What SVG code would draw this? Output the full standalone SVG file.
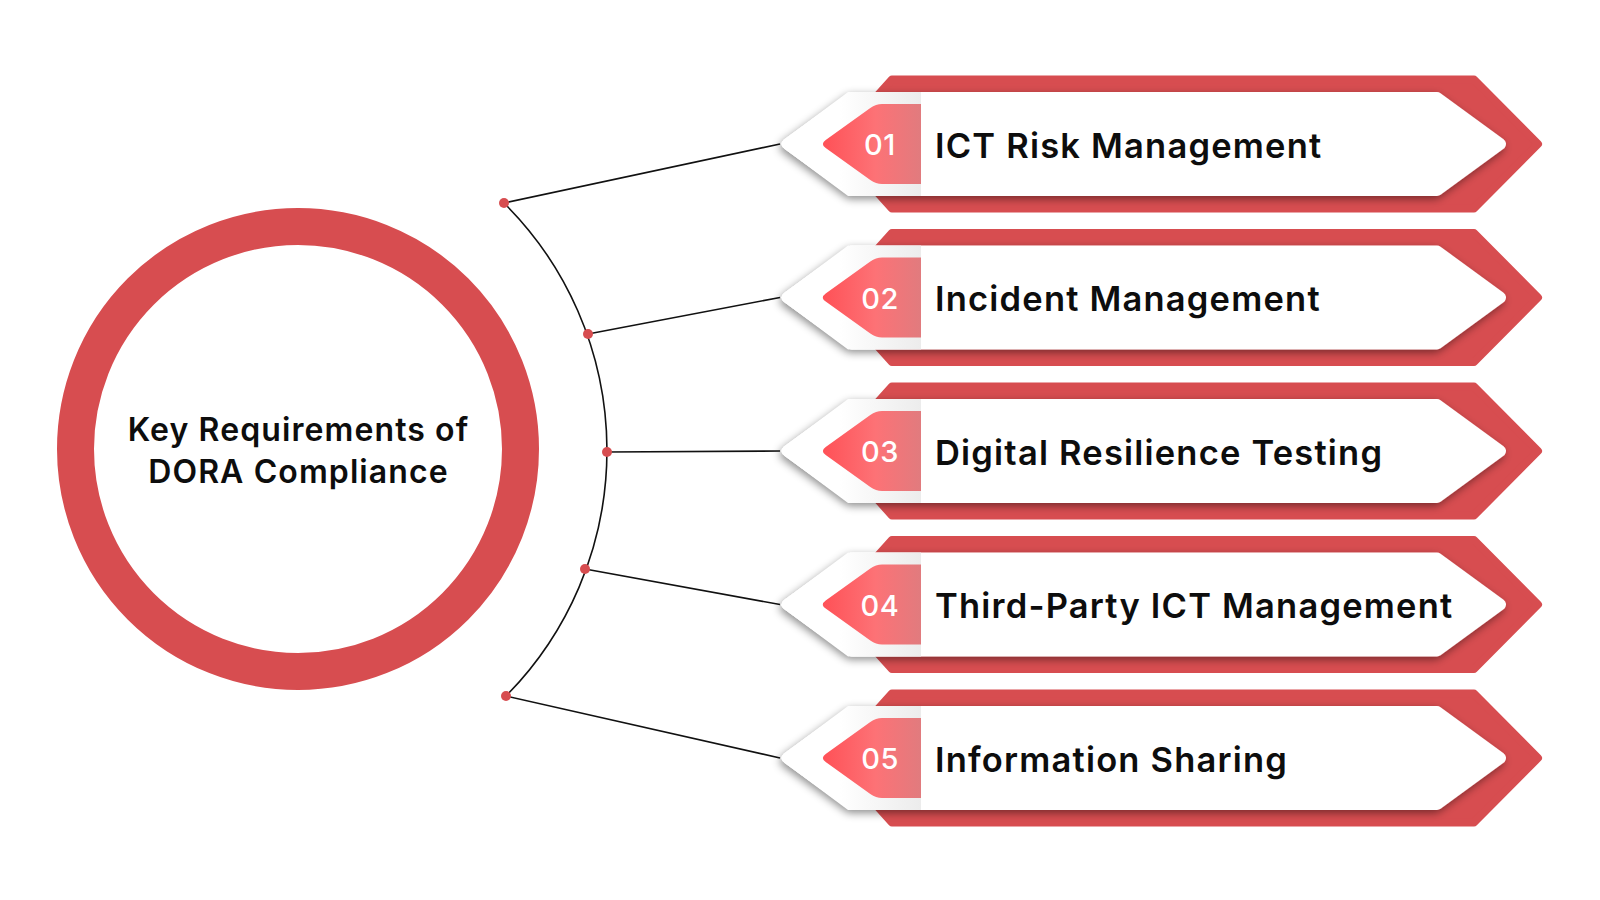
<svg xmlns="http://www.w3.org/2000/svg" xmlns:xlink="http://www.w3.org/1999/xlink" width="1600" height="900" viewBox="0 0 1600 900">
  <defs>
    <style>
      .red { fill: #d74d50; stroke: #d74d50; stroke-width: 8; stroke-linejoin: round; }
      .white { fill: #ffffff; stroke: #ffffff; stroke-width: 12; stroke-linejoin: round; filter: url(#sh); }
      .lbl { font-family: Inter, "Noto Sans", "Liberation Sans", sans-serif; font-weight: 600; font-size: 34.5px; letter-spacing: 1.2px; fill: #0d0d0d; }
      .num { font-family: Inter, "Noto Sans", "Liberation Sans", sans-serif; font-weight: 500; font-size: 29px; letter-spacing: 0.5px; fill: #ffffff; text-anchor: middle; }
      .title { font-family: Inter, "Noto Sans", "Liberation Sans", sans-serif; font-weight: 600; font-size: 32px; letter-spacing: 1.1px; fill: #0d0d0d; text-anchor: middle; }
      .conn { stroke: #111111; stroke-width: 1.6; fill: none; }
      .dot { fill: #d74d50; }
    </style>
    <filter id="sh" x="-10%" y="-40%" width="120%" height="180%">
      <feGaussianBlur in="SourceAlpha" stdDeviation="4"/>
      <feOffset dx="-2" dy="3" result="b"/>
      <feFlood flood-color="#000000" flood-opacity="0.45"/>
      <feComposite in2="b" operator="in"/>
      <feMerge>
        <feMergeNode/>
        <feMergeNode in="SourceGraphic"/>
      </feMerge>
    </filter>
    <linearGradient id="badgeGrad" x1="820" y1="0" x2="921" y2="0" gradientUnits="userSpaceOnUse">
      <stop offset="0" stop-color="#ff4f55"/>
      <stop offset="0.55" stop-color="#fd7276"/>
      <stop offset="1" stop-color="#e17b7e"/>
    </linearGradient>
    <linearGradient id="leftGrad" x1="840" y1="0" x2="921" y2="0" gradientUnits="userSpaceOnUse">
      <stop offset="0" stop-color="#ffffff"/>
      <stop offset="1" stop-color="#ececec"/>
    </linearGradient>
    <g id="banner">
      <polygon class="red" points="834,0 892,-64.5 1474,-64.5 1538,0 1474,64.5 892,64.5"/>
      <polygon class="white" points="788,0 852,-46 1437,-46 1500,0 1437,46 852,46"/>
      <path d="M 784,-4.5 L 848,-52 L 921,-52 L 921,52 L 848,52 L 784,4.5 Q 778,0 784,-4.5 Z" fill="url(#leftGrad)"/>
      <path d="M 825.7,-4.1 L 870.3,-35.9 Q 876,-40 882,-40 L 921,-40 L 921,40 L 882,40 Q 876,40 870.3,35.9 L 825.7,4.1 Q 820,0 825.7,-4.1 Z" fill="url(#badgeGrad)"/>
    </g>
  </defs>

  <rect x="0" y="0" width="1600" height="900" fill="#ffffff"/>

  <g id="connectors">
    <path class="conn" d="M 504,203 A 349 349 0 0 1 506,696"/>
    <line class="conn" x1="504" y1="203" x2="780" y2="144"/>
    <line class="conn" x1="588" y1="334" x2="780" y2="297.5"/>
    <line class="conn" x1="607" y1="452" x2="780" y2="451"/>
    <line class="conn" x1="585" y1="569" x2="780" y2="604.5"/>
    <line class="conn" x1="506" y1="696" x2="780" y2="758"/>
    <circle class="dot" cx="504" cy="203" r="5"/>
    <circle class="dot" cx="588" cy="334" r="5"/>
    <circle class="dot" cx="607" cy="452" r="5"/>
    <circle class="dot" cx="585" cy="569" r="5"/>
    <circle class="dot" cx="506" cy="696" r="5"/>
  </g>

  <g id="center-node">
    <circle cx="298" cy="449" r="222.5" fill="#ffffff" stroke="#d74d50" stroke-width="37"/>
    <text class="title" x="298.5" y="441">Key Requirements of</text>
    <text class="title" x="298.5" y="483">DORA Compliance</text>
  </g>

  <g id="item-01" transform="translate(0,144)">
    <use xlink:href="#banner" href="#banner"/>
    <text class="num" x="880" y="11">01</text>
    <text class="lbl" x="935" y="13.5">ICT Risk Management</text>
  </g>
  <g id="item-02" transform="translate(0,297.5)">
    <use xlink:href="#banner" href="#banner"/>
    <text class="num" x="880" y="11">02</text>
    <text class="lbl" x="935" y="13.5">Incident Management</text>
  </g>
  <g id="item-03" transform="translate(0,451)">
    <use xlink:href="#banner" href="#banner"/>
    <text class="num" x="880" y="11">03</text>
    <text class="lbl" x="935" y="13.5">Digital Resilience Testing</text>
  </g>
  <g id="item-04" transform="translate(0,604.5)">
    <use xlink:href="#banner" href="#banner"/>
    <text class="num" x="880" y="11">04</text>
    <text class="lbl" x="935" y="13.5">Third-Party ICT Management</text>
  </g>
  <g id="item-05" transform="translate(0,758)">
    <use xlink:href="#banner" href="#banner"/>
    <text class="num" x="880" y="11">05</text>
    <text class="lbl" x="935" y="13.5">Information Sharing</text>
  </g>
</svg>
